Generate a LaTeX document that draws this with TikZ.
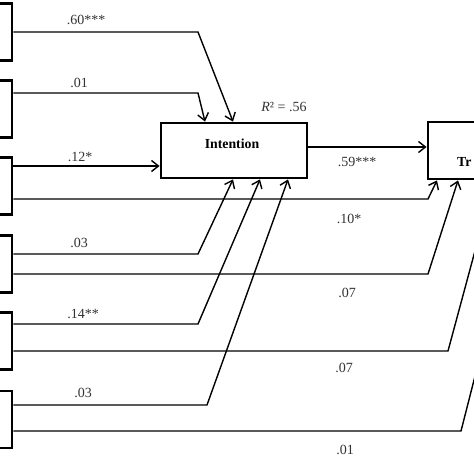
\documentclass[tikz,border=0pt]{standalone}
\usepackage{fontspec}
\setmainfont{Liberation Serif}
\usetikzlibrary{arrows.meta,calc}
\begin{document}
\begin{tikzpicture}[x=1pt,y=-1pt,
  srcbox/.style={draw, line width=2.8pt, minimum width=60pt, minimum height=57pt, inner sep=0pt, outer sep=1.4pt},
  bigbox/.style={draw, line width=2.8pt, inner sep=0pt, outer sep=1.4pt},
  conn/.style={line width=1.4pt, line join=miter},
  arr/.style={conn, -{Straight Barb[length=7pt,width=11pt,line width=1.4pt]}},
  coef/.style={font=\fontsize{14}{16}\selectfont, text=black!80, inner sep=0pt},
  ttl/.style={font=\fontsize{13.8}{16}\selectfont\bfseries, inner sep=0pt}]
\useasboundingbox (0,0) rectangle (474,474);
\clip (0,0) rectangle (474,474);
\fill[white] (0,0) rectangle (474,474);
% source boxes (cut at the left edge)
\node[srcbox] (b1) at (-18,32) {};
\node[srcbox] (b2) at (-18,109) {};
\node[srcbox] (b3) at (-18,186) {};
\node[srcbox] (b4) at (-18,264) {};
\node[srcbox] (b5) at (-18,341) {};
\node[srcbox] (b6) at (-18,419.5) {};
% outcome boxes
\node[bigbox, minimum width=146pt, minimum height=55pt] (int) at (234,150.5) {};
\node[ttl] (intt) at (232,144) {Intention};
\node[bigbox, minimum width=120pt, minimum height=57pt] (tr) at (488,150.5) {};
\node[ttl, anchor=west] (trt) at (457,162) {Tr};
% connectors
\draw[arr] (b1.east |- 0,32) -- (198,32) -- (int.north -| 233,0);
\draw[arr] (b2.east |- 0,93) -- (198,93) -- (int.north -| 205,0);
\draw[arr] (b3.east |- 0,166) -- (int.west |- 0,166);
\draw[arr] (b3.east |- 0,199) -- (428,199) -- (tr.south -| 437,0);
\draw[arr] (b4.east |- 0,254) -- (198,254) -- (int.south -| 233,0);
\draw[arr] (b4.east |- 0,274) -- (428,274) -- (tr.south -| 458,0);
\draw[arr] (b5.east |- 0,324) -- (198,324) -- (int.south -| 260,0);
\draw[arr] (b5.east |- 0,351) -- (448,351) -- (tr.south -| 494,0);
\draw[arr] (b6.east |- 0,405) -- (207,405) -- (int.south -| 288,0);
\draw[arr] (b6.east |- 0,431) -- (461,431) -- (tr.south -| 525,0);
\draw[arr] (int.east |- 0,147) -- (tr.west |- 0,147);
% coefficients
\node[coef] (c1) at (86,20) {.60***};
\node[coef] (c2) at (79,83) {.01};
\node[coef] (c3) at (80,157) {.12*};
\node[coef] (c4) at (79,243) {.03};
\node[coef] (c5) at (83,314) {.14**};
\node[coef] (c6) at (83,393) {.03};
\node[coef] (r2) at (284,107) {\textit{R}² = .56};
\node[coef] (c7) at (357,162) {.59***};
\node[coef] (c8) at (349,219) {.10*};
\node[coef] (c9) at (347,293) {.07};
\node[coef] (c10) at (344,368) {.07};
\node[coef] (c11) at (345,450) {.01};
\end{tikzpicture}
\end{document}
